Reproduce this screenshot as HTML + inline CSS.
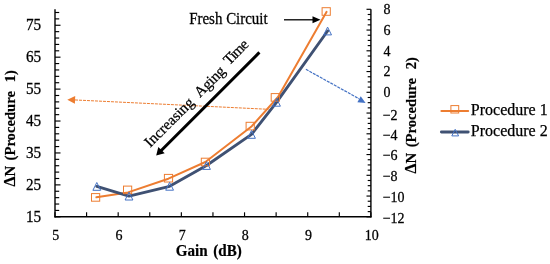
<!DOCTYPE html>
<html><head><meta charset="utf-8"><title>chart</title>
<style>html,body{margin:0;padding:0;background:#fff}body{width:550px;height:264px;overflow:hidden}</style></head>
<body>
<svg width="550" height="264" viewBox="0 0 550 264" style="display:block">
<rect width="550" height="264" fill="#fff"/>
<g stroke="#000" stroke-width="1.15" fill="none">
<line x1="55.0" y1="9.3" x2="55.0" y2="217.4" stroke-width="1.4"/>
<line x1="370.9" y1="9.3" x2="370.9" y2="217.4" stroke-width="1.4"/>
<line x1="54.4" y1="216.8" x2="371.5" y2="216.8" stroke-width="1.4"/>
<line x1="55.0" y1="216.80" x2="60.5" y2="216.80"/>
<line x1="55.0" y1="210.42" x2="59.2" y2="210.42"/>
<line x1="55.0" y1="204.03" x2="59.2" y2="204.03"/>
<line x1="55.0" y1="197.65" x2="59.2" y2="197.65"/>
<line x1="55.0" y1="191.26" x2="59.2" y2="191.26"/>
<line x1="55.0" y1="184.88" x2="60.5" y2="184.88"/>
<line x1="55.0" y1="178.49" x2="59.2" y2="178.49"/>
<line x1="55.0" y1="172.11" x2="59.2" y2="172.11"/>
<line x1="55.0" y1="165.72" x2="59.2" y2="165.72"/>
<line x1="55.0" y1="159.34" x2="59.2" y2="159.34"/>
<line x1="55.0" y1="152.95" x2="60.5" y2="152.95"/>
<line x1="55.0" y1="146.57" x2="59.2" y2="146.57"/>
<line x1="55.0" y1="140.18" x2="59.2" y2="140.18"/>
<line x1="55.0" y1="133.80" x2="59.2" y2="133.80"/>
<line x1="55.0" y1="127.42" x2="59.2" y2="127.42"/>
<line x1="55.0" y1="121.03" x2="60.5" y2="121.03"/>
<line x1="55.0" y1="114.65" x2="59.2" y2="114.65"/>
<line x1="55.0" y1="108.26" x2="59.2" y2="108.26"/>
<line x1="55.0" y1="101.88" x2="59.2" y2="101.88"/>
<line x1="55.0" y1="95.49" x2="59.2" y2="95.49"/>
<line x1="55.0" y1="89.11" x2="60.5" y2="89.11"/>
<line x1="55.0" y1="82.72" x2="59.2" y2="82.72"/>
<line x1="55.0" y1="76.34" x2="59.2" y2="76.34"/>
<line x1="55.0" y1="69.95" x2="59.2" y2="69.95"/>
<line x1="55.0" y1="63.57" x2="59.2" y2="63.57"/>
<line x1="55.0" y1="57.18" x2="60.5" y2="57.18"/>
<line x1="55.0" y1="50.80" x2="59.2" y2="50.80"/>
<line x1="55.0" y1="44.42" x2="59.2" y2="44.42"/>
<line x1="55.0" y1="38.03" x2="59.2" y2="38.03"/>
<line x1="55.0" y1="31.65" x2="59.2" y2="31.65"/>
<line x1="55.0" y1="25.26" x2="60.5" y2="25.26"/>
<line x1="55.0" y1="18.88" x2="59.2" y2="18.88"/>
<line x1="55.0" y1="12.49" x2="59.2" y2="12.49"/>
<line x1="370.9" y1="216.80" x2="366.5" y2="216.80"/>
<line x1="370.9" y1="211.61" x2="367.7" y2="211.61"/>
<line x1="370.9" y1="206.43" x2="367.7" y2="206.43"/>
<line x1="370.9" y1="201.24" x2="367.7" y2="201.24"/>
<line x1="370.9" y1="196.05" x2="366.5" y2="196.05"/>
<line x1="370.9" y1="190.86" x2="367.7" y2="190.86"/>
<line x1="370.9" y1="185.68" x2="367.7" y2="185.68"/>
<line x1="370.9" y1="180.49" x2="367.7" y2="180.49"/>
<line x1="370.9" y1="175.30" x2="366.5" y2="175.30"/>
<line x1="370.9" y1="170.11" x2="367.7" y2="170.11"/>
<line x1="370.9" y1="164.93" x2="367.7" y2="164.93"/>
<line x1="370.9" y1="159.74" x2="367.7" y2="159.74"/>
<line x1="370.9" y1="154.55" x2="366.5" y2="154.55"/>
<line x1="370.9" y1="149.36" x2="367.7" y2="149.36"/>
<line x1="370.9" y1="144.18" x2="367.7" y2="144.18"/>
<line x1="370.9" y1="138.99" x2="367.7" y2="138.99"/>
<line x1="370.9" y1="133.80" x2="366.5" y2="133.80"/>
<line x1="370.9" y1="128.61" x2="367.7" y2="128.61"/>
<line x1="370.9" y1="123.42" x2="367.7" y2="123.42"/>
<line x1="370.9" y1="118.24" x2="367.7" y2="118.24"/>
<line x1="370.9" y1="113.05" x2="366.5" y2="113.05"/>
<line x1="370.9" y1="107.86" x2="367.7" y2="107.86"/>
<line x1="370.9" y1="102.67" x2="367.7" y2="102.67"/>
<line x1="370.9" y1="97.49" x2="367.7" y2="97.49"/>
<line x1="370.9" y1="92.30" x2="366.5" y2="92.30"/>
<line x1="370.9" y1="87.11" x2="367.7" y2="87.11"/>
<line x1="370.9" y1="81.92" x2="367.7" y2="81.92"/>
<line x1="370.9" y1="76.74" x2="367.7" y2="76.74"/>
<line x1="370.9" y1="71.55" x2="366.5" y2="71.55"/>
<line x1="370.9" y1="66.36" x2="367.7" y2="66.36"/>
<line x1="370.9" y1="61.17" x2="367.7" y2="61.17"/>
<line x1="370.9" y1="55.99" x2="367.7" y2="55.99"/>
<line x1="370.9" y1="50.80" x2="366.5" y2="50.80"/>
<line x1="370.9" y1="45.61" x2="367.7" y2="45.61"/>
<line x1="370.9" y1="40.42" x2="367.7" y2="40.42"/>
<line x1="370.9" y1="35.24" x2="367.7" y2="35.24"/>
<line x1="370.9" y1="30.05" x2="366.5" y2="30.05"/>
<line x1="370.9" y1="24.86" x2="367.7" y2="24.86"/>
<line x1="370.9" y1="19.68" x2="367.7" y2="19.68"/>
<line x1="370.9" y1="14.49" x2="367.7" y2="14.49"/>
<line x1="370.9" y1="9.30" x2="366.5" y2="9.30"/>
<line x1="55.00" y1="216.8" x2="55.00" y2="212.3"/>
<line x1="86.59" y1="216.8" x2="86.59" y2="212.3"/>
<line x1="118.18" y1="216.8" x2="118.18" y2="212.3"/>
<line x1="149.77" y1="216.8" x2="149.77" y2="212.3"/>
<line x1="181.36" y1="216.8" x2="181.36" y2="212.3"/>
<line x1="212.95" y1="216.8" x2="212.95" y2="212.3"/>
<line x1="244.54" y1="216.8" x2="244.54" y2="212.3"/>
<line x1="276.13" y1="216.8" x2="276.13" y2="212.3"/>
<line x1="307.72" y1="216.8" x2="307.72" y2="212.3"/>
<line x1="339.31" y1="216.8" x2="339.31" y2="212.3"/>
<line x1="370.90" y1="216.8" x2="370.90" y2="212.3"/>
</g>
<g font-family="Liberation Serif, serif" font-size="15.2" fill="#000" stroke="#000" stroke-width="0.25">
<text transform="translate(41.2,221.80) scale(1,1.07)" text-anchor="end">15</text>
<text transform="translate(41.2,189.88) scale(1,1.07)" text-anchor="end">25</text>
<text transform="translate(41.2,157.95) scale(1,1.07)" text-anchor="end">35</text>
<text transform="translate(41.2,126.03) scale(1,1.07)" text-anchor="end">45</text>
<text transform="translate(41.2,94.11) scale(1,1.07)" text-anchor="end">55</text>
<text transform="translate(41.2,62.18) scale(1,1.07)" text-anchor="end">65</text>
<text transform="translate(41.2,30.26) scale(1,1.07)" text-anchor="end">75</text>
<text transform="translate(383.6,14.15) scale(1,1.06)" font-size="14">8</text>
<text transform="translate(383.6,34.90) scale(1,1.06)" font-size="14">6</text>
<text transform="translate(383.6,55.65) scale(1,1.06)" font-size="14">4</text>
<text transform="translate(383.6,76.40) scale(1,1.06)" font-size="14">2</text>
<text transform="translate(383.6,96.75) scale(1,1.06)" font-size="14">0</text>
<text transform="translate(382.6,119.60) scale(1,1.06)" font-size="14">−2</text>
<text transform="translate(382.6,139.55) scale(1,1.06)" font-size="14">−4</text>
<text transform="translate(382.6,160.30) scale(1,1.06)" font-size="14">−6</text>
<text transform="translate(382.6,181.05) scale(1,1.06)" font-size="14">−8</text>
<text transform="translate(382.6,201.80) scale(1,1.06)" font-size="14">−10</text>
<text transform="translate(382.6,222.55) scale(1,1.06)" font-size="14">−12</text>
<text transform="translate(55.80,239.9) scale(1,1.06)" font-size="14" text-anchor="middle">5</text>
<text transform="translate(118.98,239.9) scale(1,1.06)" font-size="14" text-anchor="middle">6</text>
<text transform="translate(182.16,239.9) scale(1,1.06)" font-size="14" text-anchor="middle">7</text>
<text transform="translate(245.34,239.9) scale(1,1.06)" font-size="14" text-anchor="middle">8</text>
<text transform="translate(308.52,239.9) scale(1,1.06)" font-size="14" text-anchor="middle">9</text>
<text transform="translate(371.70,239.9) scale(1,1.06)" font-size="14" text-anchor="middle">10</text>
</g>
<g font-family="Liberation Serif, serif" font-size="14.67" font-weight="bold" fill="#000" stroke="#000" stroke-width="0.2">
<text transform="translate(208.8,256) scale(1,1.06)" text-anchor="middle" font-size="15.1" word-spacing="1.9" xml:space="preserve">Gain (dB)</text>
<text transform="translate(14.9,128.3) rotate(-90)" text-anchor="middle" xml:space="preserve"><tspan font-size="15.9">Δ</tspan>N<tspan word-spacing="1.8"> </tspan>(Procedure<tspan word-spacing="5"> </tspan>1)</text>
<text transform="translate(416.0,115.2) rotate(-90)" text-anchor="middle" xml:space="preserve"><tspan font-size="15.9">Δ</tspan>N<tspan word-spacing="1.8"> </tspan>(Procedure<tspan word-spacing="5"> </tspan>2)</text>
</g>
<line x1="75" y1="99.95" x2="268.5" y2="109.3" stroke="#ED7D31" stroke-width="1" stroke-dasharray="3,1"/>
<polygon points="67.3,99.7 75.2,96 74.9,103.7" fill="#ED7D31"/>
<line x1="305.9" y1="69.3" x2="359" y2="98.7" stroke="#4472C4" stroke-width="1.25" stroke-dasharray="3,1"/>
<polygon points="365.60,102.90 357.34,102.33 360.73,96.21" fill="#4472C4"/>
<polyline points="96.40,197.30 128.00,192.40 168.40,178.70 205.40,162.00 251.80,126.20 278.00,97.00 326.50,11.90" fill="none" stroke="#ED7D31" stroke-width="2" stroke-linejoin="round" stroke-linecap="round"/>
<polyline points="96.80,186.40 129.00,196.10 169.60,186.30 206.50,165.50 251.50,134.40 276.50,102.30 327.60,31.00" fill="none" stroke="#3F5173" stroke-width="2.9" stroke-linejoin="round" stroke-linecap="round"/>
<rect x="91.50" y="193.60" width="8.2" height="7.6" fill="none" stroke="#ED7D31" stroke-width="1"/>
<rect x="123.50" y="186.10" width="8.2" height="7.6" fill="none" stroke="#ED7D31" stroke-width="1"/>
<rect x="164.40" y="174.40" width="8.2" height="7.6" fill="none" stroke="#ED7D31" stroke-width="1"/>
<rect x="201.30" y="158.20" width="8.2" height="7.6" fill="none" stroke="#ED7D31" stroke-width="1"/>
<rect x="246.10" y="122.30" width="8.2" height="7.6" fill="none" stroke="#ED7D31" stroke-width="1"/>
<rect x="271.20" y="93.60" width="8.2" height="7.6" fill="none" stroke="#ED7D31" stroke-width="1"/>
<rect x="322.10" y="7.70" width="8.2" height="7.6" fill="none" stroke="#ED7D31" stroke-width="1"/>
<polygon points="96.80,182.50 100.70,190.30 92.90,190.30" fill="none" stroke="#4472C4" stroke-width="1"/>
<polygon points="129.00,192.20 132.90,200.00 125.10,200.00" fill="none" stroke="#4472C4" stroke-width="1"/>
<polygon points="169.60,182.40 173.50,190.20 165.70,190.20" fill="none" stroke="#4472C4" stroke-width="1"/>
<polygon points="206.50,161.60 210.40,169.40 202.60,169.40" fill="none" stroke="#4472C4" stroke-width="1"/>
<polygon points="251.50,130.50 255.40,138.30 247.60,138.30" fill="none" stroke="#4472C4" stroke-width="1"/>
<polygon points="276.50,98.40 280.40,106.20 272.60,106.20" fill="none" stroke="#4472C4" stroke-width="1"/>
<polygon points="327.60,27.10 331.50,34.90 323.70,34.90" fill="none" stroke="#4472C4" stroke-width="1"/>
<g font-family="Liberation Serif, serif" font-size="14.67" fill="#000" stroke="#000" stroke-width="0.25">
<text transform="translate(189.2,24.0) scale(1,1.08)" font-size="14.95">Fresh Circuit</text>
<text transform="translate(150.3,147.9) rotate(-45)" font-size="15.1" xml:space="preserve">Increasing  <tspan letter-spacing="-0.2">Aging</tspan>  <tspan letter-spacing="-0.8" dx="-0.8" dy="-2.4">Time</tspan></text>
<text x="470.8" y="114.6" font-size="16">Procedure 1</text>
<text x="470.8" y="136.3" font-size="16">Procedure 2</text>
</g>
<line x1="284" y1="19.8" x2="315" y2="19.8" stroke="#000" stroke-width="1.3"/>
<polygon points="320.5,19.8 312.5,16.3 312.5,23.3" fill="#000"/>
<line x1="259.4" y1="52.4" x2="160" y2="151.8" stroke="#000" stroke-width="3"/>
<polygon points="156.20,155.40 158.32,146.91 164.69,153.28" fill="#000"/>
<line x1="441.4" y1="110.9" x2="468.2" y2="110.9" stroke="#ED7D31" stroke-width="2" stroke-linecap="round"/>
<rect x="450.9" y="105.6" width="7.8" height="7.4" fill="none" stroke="#ED7D31" stroke-width="1"/>
<line x1="441.4" y1="132" x2="468.2" y2="132" stroke="#3F5173" stroke-width="2.9" stroke-linecap="round"/>
<polygon points="455.2,129.3 458.6,135.9 451.8,135.9" fill="none" stroke="#4472C4" stroke-width="1"/>
</svg>
</body></html>
